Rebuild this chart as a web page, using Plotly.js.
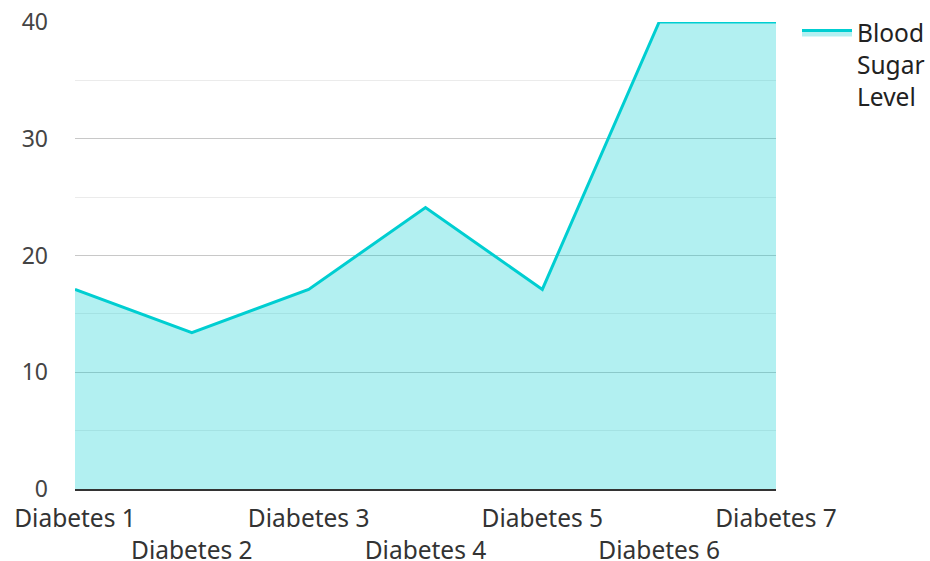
<!DOCTYPE html>
<html>
<head>
<meta charset="utf-8">
<script src="https://cdn.plot.ly/plotly-3.0.1.min.js"></script>
<style>html,body{margin:0;padding:0;background:#fff;}#chart{width:930px;height:561px;}</style>
</head>
<body>
<div id="chart"></div>
<script>
const categories = ["Diabetes 1", "Diabetes 2", "Diabetes 3", "Diabetes 4", "Diabetes 5", "Diabetes 6", "Diabetes 7"];
const bloodSugar = [17.1, 13.4, 17.1, 24.1, 17.1, 40, 40];
const seriesName = "Blood<br>Sugar<br>Level";
const yTicks = [0, 10, 20, 30, 40];

const tickText = categories.map((c, i) => (i % 2 === 1 ? "<br>" + c : c));

const trace = {
  x: categories.map((c, i) => i),
  y: bloodSugar,
  type: "scatter",
  mode: "lines",
  name: seriesName,
  fill: "tozeroy",
  fillcolor: "rgba(0,206,209,0.3)",
  line: { color: "#00CED1", width: 3 }
};

const layout = {
  width: 930,
  height: 561,
  margin: { l: 75, r: 154, t: 22, b: 72 },
  paper_bgcolor: "#fff",
  plot_bgcolor: "#fff",
  font: { family: "Noto Sans, Open Sans, sans-serif", size: 24, color: "#333" },
  xaxis: {
    range: [0, 6],
    tickmode: "array",
    tickvals: categories.map((c, i) => i),
    ticktext: tickText,
    tickangle: 0,
    automargin: false,
    showgrid: false,
    zeroline: false,
    showline: true,
    linecolor: "#333",
    linewidth: 2,
    ticklabelstandoff: 7,
    tickfont: { size: 24.5, color: "#333" }
  },
  yaxis: {
    range: [0, 40],
    tickmode: "array",
    tickvals: yTicks,
    automargin: false,
    showgrid: true,
    gridcolor: "#c8c8c8",
    gridwidth: 1,
    zeroline: false,
    showline: false,
    ticklabelstandoff: 26,
    tickfont: { size: 23, color: "#444" },
    minor: { dtick: 5, tick0: 0, showgrid: true, gridcolor: "#ebebeb", gridwidth: 1 }
  },
  legend: {
    xref: "container", yref: "container",
    x: 0.857, xanchor: "left", y: 0.982, yanchor: "top",
    valign: "top",
    itemwidth: 50,
    font: { size: 24.5, color: "#222" },
    bgcolor: "rgba(0,0,0,0)"
  },
  showlegend: true
};

Plotly.newPlot("chart", [trace], layout, { displayModeBar: false, staticPlot: true });
</script>
</body>
</html>
